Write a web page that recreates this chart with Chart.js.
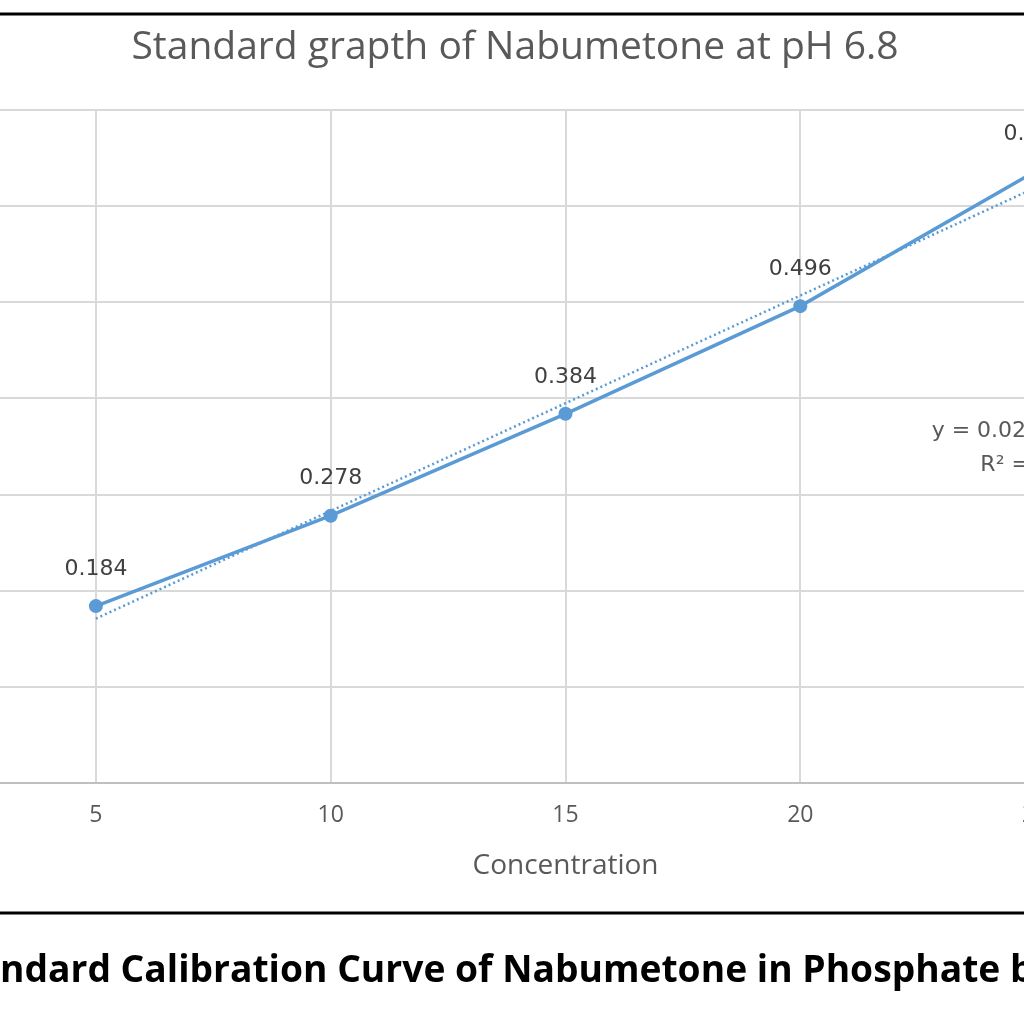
<!DOCTYPE html>
<html>
<head>
<meta charset="utf-8">
<title>Standard graph of Nabumetone at pH 6.8</title>
<script src="https://cdn.jsdelivr.net/npm/chart.js@4.4.0/dist/chart.umd.min.js"></script>
<style>
  html, body { margin: 0; padding: 0; background: #fff; overflow: hidden; }
  body { width: 1024px; height: 1024px; position: relative; }
  /* the reference is a crop of a wider chart, so the canvas hangs over both sides */
  #wrap { position: absolute; left: -135px; top: 0; width: 1300px; height: 1024px; }
</style>
</head>
<body>
<div id="wrap"><canvas id="myChart" width="1300" height="1024"></canvas></div>
<script>
const concentrations = ['5', '10', '15', '20', '25'];
const absorbance = [0.184, 0.278, 0.384, 0.496, 0.636];
const yMin = 0;
const yMax = 0.7;
const yStep = 0.1;

// linear trendline as printed on the chart
const trendSlope = 0.0224;
const trendIntercept = 0.059;
const trendR2 = 0.9943;

const chartTitle = 'Standard grapth of Nabumetone at pH 6.8';
const xAxisTitle = 'Concentration';
const yAxisTitle = 'Absorbance';
const caption = 'Standard Calibration Curve of Nabumetone in Phosphate buffer pH 6.8';

const blue = '#5B9BD5';
const gridColor = '#d9d9d9';
const textGray = '#595959';

const trendValues = concentrations.map(c => trendSlope * Number(c) + trendIntercept);

const decorPlugin = {
    id: 'decor',
    afterDatasetsDraw(chart) {
        const ctx = chart.ctx;
        const meta = chart.getDatasetMeta(0);
        ctx.save();
        // value labels above the points
        ctx.font = '22px "DejaVu Sans"';
        ctx.fillStyle = '#404040';
        ctx.textAlign = 'center';
        ctx.textBaseline = 'middle';
        meta.data.forEach((pt, i) => {
            ctx.fillText(absorbance[i].toFixed(3), pt.x, pt.y - 37);
        });
        // trendline equation
        const x = chart.scales.x.getPixelForValue(concentrations.length - 1);
        const y = chart.scales.y.getPixelForValue(0.366);
        ctx.font = '22px "DejaVu Sans"';
        ctx.fillStyle = textGray;
        ctx.fillText('y = ' + trendSlope + 'x + ' + trendIntercept, x + 12, y);
        ctx.fillText('R\u00B2 = ' + trendR2, x + 12, y + 34);
        ctx.restore();
    },
    afterDraw(chart) {
        const ctx = chart.ctx;
        ctx.save();
        // figure frame
        ctx.fillStyle = '#000';
        ctx.fillRect(0, 12.5, chart.width, 3);
        ctx.fillRect(0, 911.5, chart.width, 3);
        // caption under the frame, sized to the reference width
        const visible = 'ndard Calibration Curve of Nabumetone in Phosphate ';
        ctx.font = 'bold 40px "Open Sans"';
        const size = 40 * 1010 / ctx.measureText(visible).width;
        ctx.font = 'bold ' + size.toFixed(2) + 'px "Open Sans"';
        const shift = ctx.measureText('Sta').width;
        ctx.textAlign = 'left';
        ctx.textBaseline = 'alphabetic';
        ctx.fillText(caption, 135 - shift, 982);
        ctx.restore();
    }
};

new Chart(document.getElementById('myChart').getContext('2d'), {
    type: 'line',
    data: {
        labels: concentrations,
        datasets: [
            {
                label: 'Absorbance',
                data: absorbance,
                borderColor: blue,
                backgroundColor: blue,
                borderWidth: 3.5,
                pointRadius: 7,
                pointBorderWidth: 0,
                pointBackgroundColor: blue,
                tension: 0,
                fill: false,
                order: 1
            },
            {
                label: 'Linear trend',
                data: trendValues,
                borderColor: blue,
                borderWidth: 2.5,
                borderDash: [2, 3],
                pointRadius: 0,
                fill: false,
                order: 2
            }
        ]
    },
    options: {
        responsive: false,
        animation: false,
        layout: { padding: { left: 12.5, right: 12.5, top: 0, bottom: 141 } },
        plugins: {
            legend: { display: false },
            tooltip: { enabled: false },
            title: {
                display: true,
                text: chartTitle,
                color: textGray,
                font: { family: '"Open Sans"', size: 39, weight: 'normal' },
                padding: { top: 24, bottom: 39.2 }
            }
        },
        scales: {
            x: {
                type: 'category',
                offset: true,
                grid: { color: gridColor, lineWidth: 2, offset: false, drawTicks: false },
                border: { color: '#bfbfbf', width: 2 },
                ticks: {
                    color: textGray,
                    padding: 19,
                    font: { family: '"Open Sans"', size: 23 }
                },
                title: {
                    display: true,
                    text: xAxisTitle,
                    color: textGray,
                    padding: 0,
                    font: { family: '"Open Sans"', size: 28 }
                },
                afterFit: s => { s.height = 100; }
            },
            y: {
                min: yMin,
                max: yMax,
                grid: { color: gridColor, lineWidth: 2, drawTicks: false },
                border: { display: false },
                ticks: {
                    stepSize: yStep,
                    color: textGray,
                    padding: 12,
                    font: { family: '"Open Sans"', size: 23 },
                    callback: v => v.toFixed(1)
                },
                title: {
                    display: true,
                    text: yAxisTitle,
                    color: textGray,
                    font: { family: '"Open Sans"', size: 26 }
                },
                afterFit: s => { s.width = 101; }
            }
        }
    },
    plugins: [decorPlugin]
});
</script>
</body>
</html>
